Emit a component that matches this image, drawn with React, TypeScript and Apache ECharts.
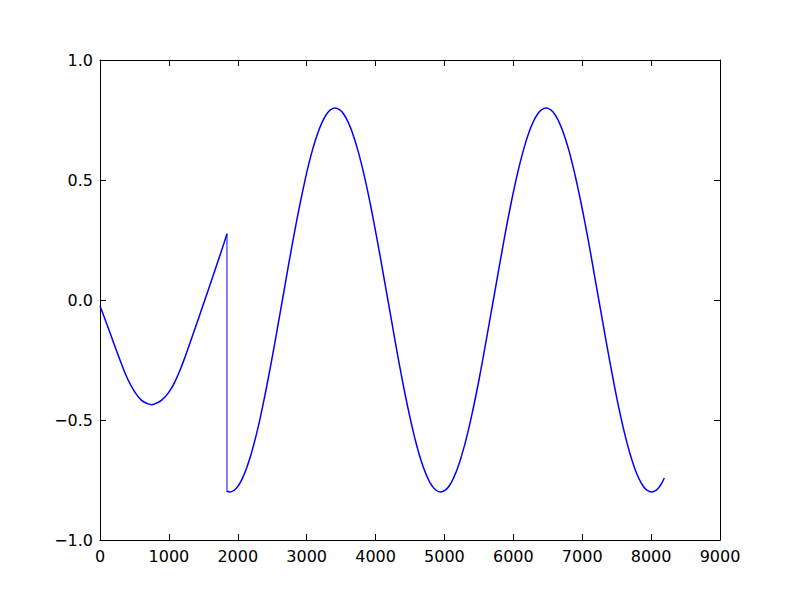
import React, { useEffect, useRef } from "react";
import * as echarts from "echarts";

// First segment (before the jump)
const segAX = [0, 100, 200, 300, 400, 500, 600, 700, 750, 800, 900, 1000, 1100, 1200, 1300, 1400, 1500, 1600, 1700, 1800, 1843];
const segAY = [-0.025, -0.101, -0.18, -0.257, -0.328, -0.381, -0.417, -0.433, -0.436, -0.432, -0.416, -0.384, -0.333, -0.264, -0.184, -0.102, -0.018, 0.066, 0.151, 0.237, 0.276];

// Vertical jump
const jumpX = [1843, 1843];
const jumpY = [0.276, -0.8];

// Main wave (after the jump)
const waveX = [
  1843, 1882, 1946, 2010, 2073, 2137, 2201, 2265, 2329, 2392, 2456, 2520, 2584, 2648, 2711, 2775, 2839, 2903, 2967, 3030, 3094,
  3158, 3222, 3286, 3349, 3413, 3477, 3541, 3605, 3668, 3732, 3796, 3860, 3924, 3987, 4051, 4115, 4179, 4243, 4306, 4370,
  4434, 4498, 4562, 4625, 4689, 4753, 4817, 4881, 4944, 5008, 5072, 5136, 5200, 5263, 5327, 5391, 5455, 5519, 5582, 5646,
  5710, 5774, 5838, 5901, 5965, 6029, 6093, 6157, 6220, 6284, 6348, 6412, 6476, 6539, 6603, 6667, 6731, 6795, 6858, 6922,
  6986, 7050, 7114, 7177, 7241, 7305, 7369, 7433, 7496, 7560, 7624, 7688, 7752, 7815, 7879, 7943, 8007, 8071, 8134, 8191,
];
const waveY = [
  -0.797,
  -0.8, -0.793, -0.773, -0.739, -0.693, -0.635, -0.566, -0.487, -0.4, -0.306, -0.207, -0.104,
  0, 0.104, 0.207, 0.306, 0.4, 0.487, 0.566, 0.635, 0.693, 0.739, 0.773, 0.793,
  0.8, 0.793, 0.773, 0.739, 0.693, 0.635, 0.566, 0.487, 0.4, 0.306, 0.207, 0.104,
  0, -0.104, -0.207, -0.306, -0.4, -0.487, -0.566, -0.635, -0.693, -0.739, -0.773, -0.793,
  -0.8, -0.793, -0.773, -0.739, -0.693, -0.635, -0.566, -0.487, -0.4, -0.306, -0.207, -0.104,
  0, 0.104, 0.207, 0.306, 0.4, 0.487, 0.566, 0.635, 0.693, 0.739, 0.773, 0.793,
  0.8, 0.793, 0.773, 0.739, 0.693, 0.635, 0.566, 0.487, 0.4, 0.306, 0.207, 0.104,
  0, -0.104, -0.207, -0.306, -0.4, -0.487, -0.566, -0.635, -0.693, -0.739, -0.773, -0.793,
  -0.8, -0.793, -0.773, -0.742,
];

// Axis ticks
const xTicks = { min: 0, max: 9000, interval: 1000 };
const yTicks = { min: -1, max: 1, interval: 0.5 };

const zip = (xs: number[], ys: number[]) => xs.map((x, i) => [x, ys[i]]);

const fmtY = (v: number) => (v < 0 ? "\u2212" : "") + Math.abs(v).toFixed(1);

export default function App() {
  const ref = useRef<HTMLDivElement>(null);
  useEffect(() => {
    if (!ref.current) return;
    const chart = echarts.init(ref.current, null, { renderer: "svg" });
    const font = { fontFamily: "DejaVu Sans", fontSize: 16, color: "#000" };
    const tick = { show: true, inside: true, length: 6, lineStyle: { color: "#000", width: 1 } };
    const line = { show: true, onZero: false, lineStyle: { color: "#000", width: 1 } };
    const lineStyle = { color: "#0000ff", width: 1.5 };
    chart.setOption({
      animation: false,
      backgroundColor: "#ffffff",
      grid: { left: 100, right: 80, top: 60, bottom: 60, containLabel: false },
      xAxis: [
        {
          type: "value", position: "bottom", ...xTicks,
          axisLine: line, axisTick: tick, splitLine: { show: false },
          axisLabel: { ...font, margin: 8, formatter: (v: number) => String(v) },
        },
        {
          type: "value", position: "top", ...xTicks,
          axisLine: line, axisTick: tick, splitLine: { show: false },
          axisLabel: { show: false },
        },
      ],
      yAxis: [
        {
          type: "value", position: "left", ...yTicks,
          axisLine: line, axisTick: tick, splitLine: { show: false },
          axisLabel: { ...font, margin: 7, formatter: fmtY },
        },
        {
          type: "value", position: "right", ...yTicks,
          axisLine: line, axisTick: tick, splitLine: { show: false },
          axisLabel: { show: false },
        },
      ],
      series: [
        { type: "line", data: zip(segAX, segAY), smooth: true, symbol: "none", lineStyle },
        { type: "line", data: zip(jumpX, jumpY), smooth: false, symbol: "none", lineStyle: { color: "#0000ff", width: 1 } },
        { type: "line", data: zip(waveX, waveY), smooth: true, symbol: "none", lineStyle },
      ],
    });
    return () => chart.dispose();
  }, []);
  return <div ref={ref} style={{ position: "fixed", left: 0, top: 0, width: 800, height: 600 }} />;
}
